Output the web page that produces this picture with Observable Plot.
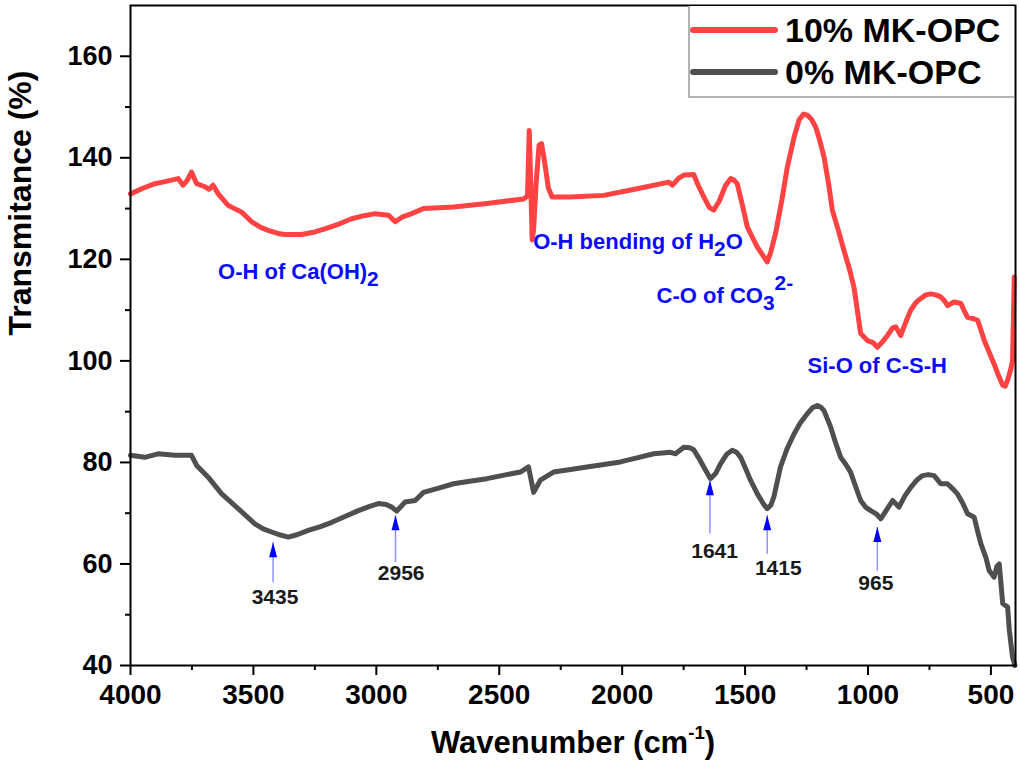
<!DOCTYPE html>
<html>
<head>
<meta charset="utf-8">
<script src="https://cdn.jsdelivr.net/npm/d3@7"></script>
<script src="https://cdn.jsdelivr.net/npm/@observablehq/plot@0.6"></script>
<style>
  body { margin: 0; background: #fff; }
  #chart svg { display: block; }
  #chart text { font-family: "Liberation Sans", Arial, sans-serif; }
</style>
</head>
<body>
<div id="chart"></div>
<script>
// ---- Data (wavenumber cm^-1, transmittance %) ----
const mk10 = [[4000,132.9],[3950,134.0],[3901,134.9],[3860,135.3],[3806,135.9],[3786,134.6],[3770,135.5],[3752,137.2],[3731,134.9],[3697,134.3],[3680,133.8],[3664,134.6],[3643,132.9],[3602,130.6],[3548,129.3],[3507,127.4],[3470,126.3],[3440,125.7],[3400,125.1],[3372,124.9],[3304,124.9],[3250,125.4],[3209,126.0],[3150,127.0],[3100,128.0],[3050,128.6],[3005,129.0],[2951,128.7],[2923,127.4],[2896,128.3],[2856,129.0],[2808,130.0],[2686,130.3],[2550,131.0],[2401,131.9],[2385,132.5],[2378,145.4],[2372,135.0],[2366,123.8],[2360,126.0],[2350,135.0],[2338,142.5],[2328,142.8],[2318,140.0],[2300,134.0],[2285,132.3],[2211,132.3],[2075,132.6],[1939,133.9],[1810,135.2],[1796,134.6],[1770,136.0],[1749,136.6],[1709,136.7],[1690,134.5],[1668,132.3],[1645,130.2],[1627,129.7],[1605,131.5],[1580,134.5],[1559,135.9],[1545,135.6],[1532,134.9],[1510,130.5],[1491,126.4],[1470,124.3],[1450,122.4],[1425,120.6],[1410,119.5],[1395,121.5],[1376,125.1],[1350,131.8],[1328,138.2],[1300,144.2],[1280,147.5],[1262,148.6],[1247,148.4],[1230,147.6],[1213,146.1],[1195,143.2],[1179,140.2],[1160,134.8],[1145,129.7],[1120,125.6],[1098,121.8],[1075,118.0],[1057,114.5],[1042,109.5],[1030,105.4],[1002,104.0],[980,103.6],[962,102.7],[940,103.8],[921,105.0],[900,106.5],[887,106.7],[867,105.0],[845,107.8],[826,110.0],[805,111.5],[785,112.3],[765,113.0],[745,113.2],[724,113.0],[704,112.6],[690,111.9],[676,110.9],[650,111.6],[622,111.3],[608,109.8],[595,108.6],[570,108.3],[554,108.0],[540,106.0],[527,104.0],[507,101.7],[487,99.4],[470,97.2],[452,95.2],[442,95.0],[432,96.2],[420,98.2],[412,100.1],[405,116.5]];

const mk0 = [[4000,81.4],[3942,81.0],[3888,81.7],[3820,81.4],[3752,81.4],[3731,79.4],[3684,77.1],[3629,73.8],[3562,70.9],[3494,67.9],[3460,66.9],[3426,66.3],[3390,65.7],[3358,65.3],[3320,65.8],[3277,66.6],[3230,67.3],[3181,68.2],[3130,69.3],[3073,70.5],[3030,71.3],[2992,71.9],[2960,71.7],[2937,71.2],[2917,70.4],[2883,72.2],[2842,72.5],[2808,74.1],[2750,74.9],[2686,75.8],[2620,76.3],[2550,76.8],[2480,77.5],[2414,78.1],[2381,79.1],[2360,74.1],[2333,76.5],[2279,78.1],[2210,78.6],[2143,79.1],[2007,80.1],[1940,80.9],[1871,81.7],[1803,82.0],[1783,81.7],[1749,83.0],[1725,82.9],[1709,82.5],[1690,81.0],[1668,79.1],[1641,76.8],[1620,77.8],[1600,79.7],[1575,81.6],[1552,82.4],[1535,82.0],[1518,81.0],[1498,78.8],[1478,76.5],[1450,73.8],[1425,71.8],[1410,70.9],[1395,71.6],[1383,73.2],[1356,79.1],[1330,82.6],[1301,85.6],[1275,87.8],[1247,89.6],[1225,90.8],[1206,91.2],[1190,90.8],[1179,90.2],[1152,87.0],[1130,83.6],[1111,81.0],[1090,79.6],[1071,78.1],[1050,75.2],[1030,72.5],[1010,71.2],[989,70.5],[965,69.8],[948,68.9],[925,70.6],[900,72.5],[874,71.2],[850,73.4],[826,75.1],[800,76.6],[778,77.4],[755,77.6],[731,77.4],[704,75.8],[677,75.8],[655,74.8],[636,73.8],[615,72.0],[595,69.9],[568,69.2],[555,66.6],[541,64.0],[520,61.2],[507,58.7],[487,57.4],[476,59.5],[466,60.0],[452,52.2],[432,51.5],[425,46.9],[412,41.6],[402,40.0]];

const seriesNames = ["10% MK-OPC", "0% MK-OPC"];
const seriesColors = ["#ff4242", "#4f4f4f"];

// Peak arrows (0% MK-OPC)
const peakLabels = ["3435", "2956", "1641", "1415", "965"];
const arrowWavenumbers = [3420, 2922, 1643, 1410, 962];
const arrowTips = [64.3, 69.6, 76.5, 69.6, 67.3];
const arrowTails = [56.4, 60.4, 66.0, 62.0, 58.7];
const labelWavenumbers = [3412, 2899, 1624, 1365, 968];
const labelValues = [53.5, 58.1, 62.5, 59.1, 56.2];

// Band assignments
const bandTexts = ["O-H of Ca(OH)₂", "O-H bending of H₂O", "C-O of CO₃²⁻", "Si-O of C-S-H"];
const bandWavenumbers = [3644, 2362, 1860, 1246];
const bandValues = [117.6, 123.4, 112.8, 99.0];

// Axis ticks
const xTicks = [4000, 3500, 3000, 2500, 2000, 1500, 1000, 500];
const xMinorTicks = [3750, 3250, 2750, 2250, 1750, 1250, 750];
const yTicks = [40, 60, 80, 100, 120, 140, 160];
const yMinorTicks = [50, 70, 90, 110, 130, 150];
const xTitle = "Wavenumber (cm⁻¹)";
const yTitle = "Transmitance (%)";

const arrows = peakLabels.map((label, i) => ({
  label, x: arrowWavenumbers[i], tip: arrowTips[i], tail: arrowTails[i],
  lx: labelWavenumbers[i], ly: labelValues[i]
}));
const bands = bandTexts.map((text, i) => ({ text, x: bandWavenumbers[i], y: bandValues[i] }));

const font = '"Liberation Sans", Arial, sans-serif';

const plot = Plot.plot({
  width: 1020,
  height: 778,
  marginLeft: 130,
  marginRight: 5,
  marginTop: 5,
  marginBottom: 113,
  style: { fontFamily: font, background: "#fff", color: "#000" },
  x: { domain: [4000, 400] },
  y: { domain: [40, 170] },
  marks: [
    Plot.line(mk10, { x: d => d[0], y: d => d[1], stroke: seriesColors[0], strokeWidth: 5, strokeLinejoin: "round", strokeLinecap: "round" }),
    Plot.line(mk0, { x: d => d[0], y: d => d[1], stroke: seriesColors[1], strokeWidth: 5, strokeLinejoin: "round", strokeLinecap: "round" }),
    Plot.link(arrows, { x1: "x", x2: "x", y1: "tail", y2: "tip", stroke: "#8f8fff", strokeWidth: 1.5 }),
    Plot.vector(arrows, { x: "x", y: "tip", anchor: "end", length: 15, shape: "spike", r: 4, fill: "#0000ff", stroke: "none" }),
    Plot.text(arrows, { x: "lx", y: "ly", text: "label", fontSize: 21, fontWeight: "bold", fill: "#1a1a1a" }),
    Plot.text(bands, { x: "x", y: "y", text: "text", textAnchor: "start", fontSize: 22, fontWeight: "bold", fill: "#0a0aff" }),
    Plot.axisX({ ticks: xTicks, tickSize: 10, tickPadding: 9, fontSize: 28, fontWeight: "bold", strokeWidth: 2, tickFormat: d => String(d), label: null }),
    Plot.axisX({ ticks: xMinorTicks, tickSize: 5, strokeWidth: 2, tickFormat: () => "", label: null }),
    Plot.axisY({ ticks: yTicks, tickSize: 10, tickPadding: 8, fontSize: 27, fontWeight: "bold", strokeWidth: 2, tickFormat: d => String(d), label: null }),
    Plot.axisY({ ticks: yMinorTicks, tickSize: 5, strokeWidth: 2, tickFormat: () => "", label: null }),
    Plot.text([xTitle], { frameAnchor: "bottom", dy: 87, fontSize: 31, fontWeight: "bold", fill: "#000" }),
    Plot.text([yTitle], { frameAnchor: "left", rotate: -90, dx: -110, fontSize: 32, fontWeight: "bold", fill: "#000" }),
    Plot.frame({ stroke: "#000", strokeWidth: 2 })
  ]
});

document.getElementById("chart").appendChild(plot);

// Sub/superscripts
const subChars = { "₂": "2", "₃": "3" };
const supChars = { "²": "2", "⁻": "-", "¹": "1" };
plot.querySelectorAll("text").forEach(t => {
  const s = t.textContent;
  if (!/[₂₃²⁻¹]/.test(s) || t.querySelector("tspan")) return;
  const runs = [];
  for (const ch of s) {
    const type = subChars[ch] ? "sub" : supChars[ch] ? "sup" : "normal";
    const c = subChars[ch] || supChars[ch] || ch;
    if (runs.length && runs[runs.length - 1].type === type) runs[runs.length - 1].text += c;
    else runs.push({ type, text: c });
  }
  const isTitle = s === xTitle;
  t.textContent = "";
  for (const r of runs) {
    const ts = document.createElementNS("http://www.w3.org/2000/svg", "tspan");
    ts.textContent = r.text;
    if (r.type === "sub") { ts.setAttribute("baseline-shift", "-0.35em"); ts.setAttribute("font-size", "0.95em"); }
    if (r.type === "sup") {
      ts.setAttribute("baseline-shift", isTitle ? "0.75em" : "0.6em");
      ts.setAttribute("font-size", isTitle ? "0.6em" : "0.95em");
    }
    t.appendChild(ts);
  }
});

// Legend (inside top-right of frame)
const lg = d3.select(plot).append("g").attr("font-family", font).attr("text-anchor", "start");
lg.append("rect").attr("x", 689).attr("y", 6).attr("width", 325).attr("height", 91).attr("fill", "#fff");
lg.append("path").attr("d", "M689,6V97H1014").attr("fill", "none").attr("stroke", "#9a9a9a").attr("stroke-width", 1.5);
const legendY = [30, 72];
seriesNames.forEach((name, i) => {
  lg.append("line").attr("x1", 693).attr("x2", 775).attr("y1", legendY[i]).attr("y2", legendY[i])
    .attr("stroke", seriesColors[i]).attr("stroke-width", 6).attr("stroke-linecap", "round");
  lg.append("text").attr("x", 785).attr("y", legendY[i] + 12).attr("font-size", 34).attr("font-weight", "bold")
    .attr("text-anchor", "start").attr("fill", "#000").text(name);
});
</script>
</body>
</html>
